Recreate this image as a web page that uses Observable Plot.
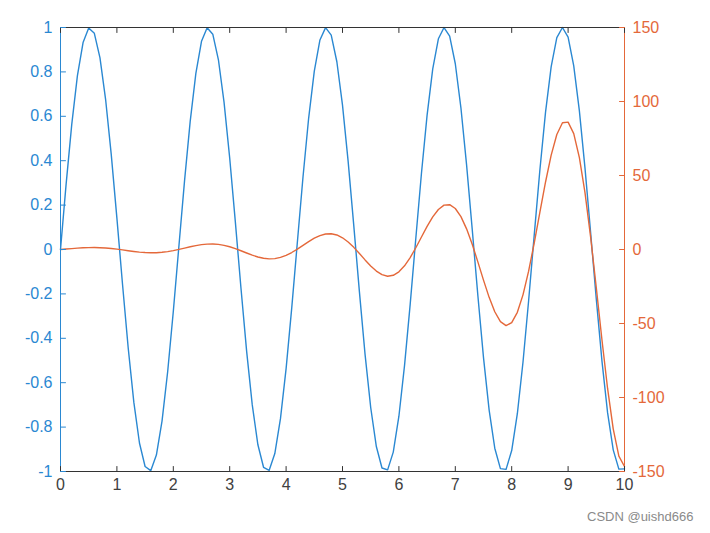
<!DOCTYPE html>
<html><head><meta charset="utf-8">
<script src="https://cdn.jsdelivr.net/npm/d3@7"></script>
<script src="https://cdn.jsdelivr.net/npm/@observablehq/plot@0.6"></script>
<style>
body{margin:0;background:#fff;}
#wrap{position:relative;width:710px;height:533px;}
#wm{position:absolute;left:587px;top:510px;font:13px/1 "Liberation Sans",Arial,sans-serif;color:#8a8a8a;white-space:nowrap;}
</style>
</head><body><div id="wrap"></div>
<script>
const xValues = [0,0.1,0.2,0.3,0.4,0.5,0.6,0.7,0.8,0.9,
1,1.1,1.2,1.3,1.4,1.5,1.6,1.7,1.8,1.9,
2,2.1,2.2,2.3,2.4,2.5,2.6,2.7,2.8,2.9,
3,3.1,3.2,3.3,3.4,3.5,3.6,3.7,3.8,3.9,
4,4.1,4.2,4.3,4.4,4.5,4.6,4.7,4.8,4.9,
5,5.1,5.2,5.3,5.4,5.5,5.6,5.7,5.8,5.9,
6,6.1,6.2,6.3,6.4,6.5,6.6,6.7,6.8,6.9,
7,7.1,7.2,7.3,7.4,7.5,7.6,7.7,7.8,7.9,
8,8.1,8.2,8.3,8.4,8.5,8.6,8.7,8.8,8.9,
9,9.1,9.2,9.3,9.4,9.5,9.6,9.7,9.8,9.9,
10];
const leftSeries = [0,0.2955,0.5646,0.7833,0.9320,0.9975,0.9738,0.8632,0.6755,0.4274,
0.1411,-0.1577,-0.4425,-0.6878,-0.8716,-0.9775,-0.9962,-0.9258,-0.7728,-0.5507,
-0.2794,0.0168,0.3115,0.5784,0.7937,0.9380,0.9985,0.9699,0.8546,0.6630,
0.4121,0.1245,-0.1743,-0.4575,-0.6999,-0.8797,-0.9809,-0.9946,-0.9193,-0.7620,
-0.5366,-0.2632,0.0336,0.3275,0.5921,0.8038,0.9437,0.9993,0.9657,0.8457,
0.6503,0.3967,0.1078,-0.1909,-0.4724,-0.7118,-0.8876,-0.9841,-0.9927,-0.9126,
-0.7510,-0.5223,-0.2470,0.0504,0.3433,0.6055,0.8137,0.9491,0.9998,0.9613,
0.8367,0.6374,0.3813,0.0910,-0.2073,-0.4872,-0.7235,-0.8951,-0.9868,-0.9904,
-0.9056,-0.7397,-0.5078,-0.2306,0.0672,0.3591,0.6189,0.8234,0.9541,1.0000,
0.9564,0.8272,0.6242,0.3657,0.0743,-0.2237,-0.5016,-0.7350,-0.9024,-0.9893,
-0.9880];
const rightSeries = [0,0.311,0.624,0.910,1.138,1.281,1.315,1.225,1.008,0.670,
0.233,-0.273,-0.806,-1.317,-1.755,-2.069,-2.217,-2.166,-1.901,-1.424,
-0.760,0.048,0.936,1.827,2.635,3.274,3.664,3.741,3.466,2.826,
1.847,0.587,-0.863,-2.382,-3.831,-5.062,-5.934,-6.325,-6.147,-5.356,
-3.965,-2.045,0.274,2.811,5.344,7.626,9.413,10.479,10.645,9.800,
7.922,5.081,1.451,-2.702,-7.029,-11.135,-14.596,-17.013,-18.041,-17.436,
-15.085,-11.028,-5.483,1.176,8.422,15.616,22.062,27.052,29.958,30.281,
27.707,22.190,13.955,3.501,-8.385,-20.716,-32.341,-42.064,-48.750,-51.436,
-49.444,-42.457,-30.641,-14.628,4.481,25.175,45.613,63.795,77.712,85.626,
86.092,78.279,62.098,38.245,8.169,-25.855,-60.950,-93.889,-121.18,-139.66,
-146.63];
const xTicks = [0,1,2,3,4,5,6,7,8,9,10];
const leftTicks = [-1,-0.8,-0.6,-0.4,-0.2,0,0.2,0.4,0.6,0.8,1];
const rightTicks = [-150,-100,-50,0,50,100,150];
const xDomain = [0,10];
const leftDomain = [-1,1];
const rightDomain = [-150,150];

const BLUE = "#2a88d2", ORANGE = "#e4683a", AX = "#333333";
const FS = 16;
const k = rightDomain[1] / leftDomain[1];
const d1 = xValues.map((x,i)=>({x, y: leftSeries[i]}));
const d2 = xValues.map((x,i)=>({x, y: rightSeries[i] / k}));
const tickShape = {draw(ctx, l){ ctx.moveTo(0,0); ctx.lineTo(0,-l); }};
const tk = {length:5, anchor:"start", shape: tickShape, strokeWidth:1};

const chart = Plot.plot({
  width: 710, height: 533,
  marginLeft: 60, marginRight: 86, marginTop: 27, marginBottom: 62,
  style: {fontFamily: '"Liberation Sans", Arial, sans-serif', fontSize: "16px", background: "#fff"},
  x: {domain: xDomain, axis: null},
  y: {domain: leftDomain, axis: null},
  marks: [
    Plot.line(d1, {x:"x", y:"y", stroke: BLUE, strokeWidth: 1.4}),
    Plot.line(d2, {x:"x", y:"y", stroke: ORANGE, strokeWidth: 1.4}),
    Plot.ruleY([leftDomain[1]], {stroke: AX, strokeWidth: 1}),
    Plot.ruleY([leftDomain[0]], {stroke: AX, strokeWidth: 1}),
    Plot.ruleX([xDomain[0]], {stroke: BLUE, strokeWidth: 1}),
    Plot.ruleX([xDomain[1]], {stroke: ORANGE, strokeWidth: 1}),
    Plot.vector(xTicks, {x: d=>d, frameAnchor: "bottom", rotate: 0, stroke: AX, ...tk}),
    Plot.vector(xTicks, {x: d=>d, frameAnchor: "top", rotate: 180, stroke: AX, ...tk}),
    Plot.vector(leftTicks, {y: d=>d, frameAnchor: "left", rotate: 90, stroke: BLUE, ...tk}),
    Plot.vector(rightTicks, {y: d=>d/k, frameAnchor: "right", rotate: -90, stroke: ORANGE, ...tk}),
    Plot.axisX({anchor: "bottom", ticks: xTicks, tickSize: 0, tickPadding: 7, color: "#404040", fontSize: FS, label: null, tickFormat: d=>String(d)}),
    Plot.axisY({anchor: "left", ticks: leftTicks, tickSize: 0, tickPadding: 8, color: BLUE, fontSize: FS, label: null, tickFormat: d=>String(+d.toFixed(1))}),
    Plot.axisY({anchor: "right", ticks: rightTicks.map(d=>d/k), tickSize: 0, tickPadding: 8, color: ORANGE, fontSize: FS, label: null, tickFormat: d=>String(Math.round(d*k))})
  ]
});
const wrap = document.getElementById("wrap");
wrap.appendChild(chart);
const wm = document.createElement("div");
wm.id = "wm"; wm.textContent = "CSDN @uishd666";
wrap.appendChild(wm);
</script>
</body></html>
